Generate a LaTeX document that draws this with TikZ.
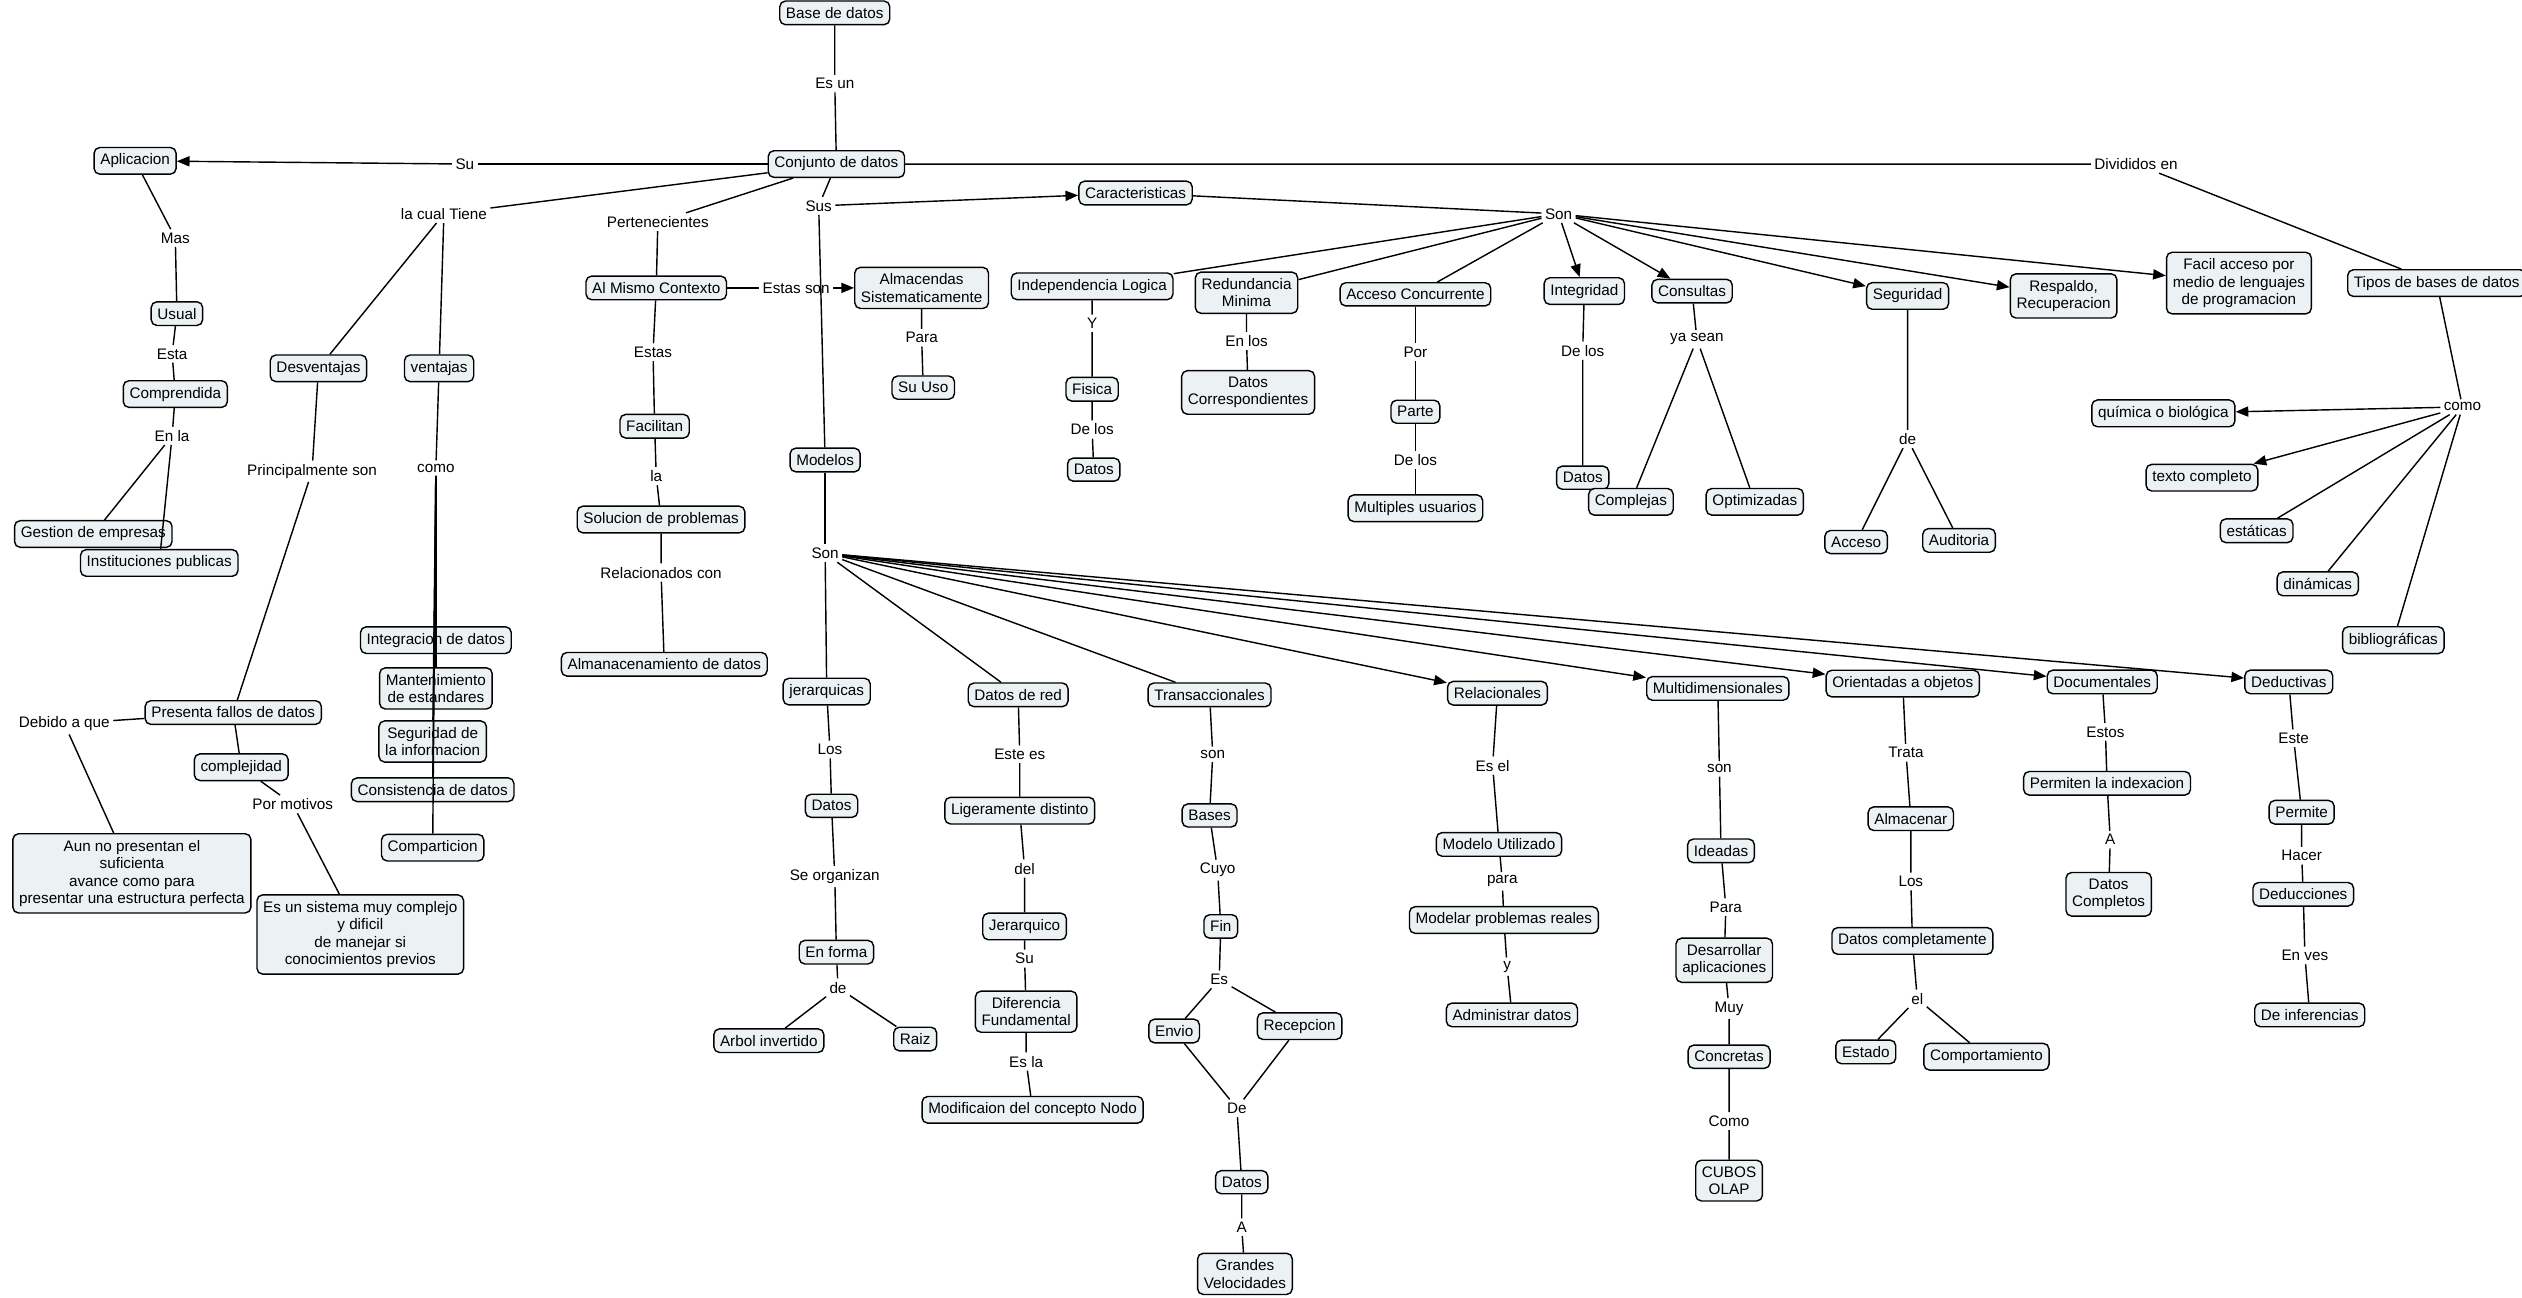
\documentclass[tikz,border=0pt]{standalone}
\usepackage{fontspec}
\setmainfont{Liberation Sans}
\usetikzlibrary{arrows.meta}
\definecolor{boxfill}{RGB}{236,242,244}
\tikzset{
  concept/.style={draw,rounded corners=2pt,fill=boxfill,inner sep=2.2pt,align=center,font=\fontsize{5.4}{6.2}\selectfont},
  link/.style={inner sep=1pt,font=\fontsize{5.4}{6.2}\selectfont},
  to/.style={-{Triangle[length=4.5pt,width=3.6pt]}}
}
\begin{document}
\begin{tikzpicture}[x=0.02cm,y=-0.02cm,line width=0.5pt]
\useasboundingbox (0,0) rectangle (1568,807);
% boxes
\node[concept] (base) at (519,8) {Base de datos};
\node[concept] (conj) at (520,102) {Conjunto de datos};
\node[concept] (apl) at (84,100) {Aplicacion};
\node[concept] (usual) at (110,195) {Usual};
\node[concept] (compr) at (109,245) {Comprendida};
\node[concept] (gest) at (58,332) {Gestion de empresas};
\node[concept] (inst) at (99,350) {Instituciones publicas};
\node[concept] (desv) at (198,229) {Desventajas};
\node[concept] (vent) at (273,229) {ventajas};
\node[concept] (fallos) at (145,443) {Presenta fallos de datos};
\node[concept] (compl) at (150,477) {complejidad};
\node[concept] (aun) at (82,543) {Aun no presentan el\\suficienta\\avance como para\\presentar una estructura perfecta};
\node[concept] (sist) at (224,581) {Es un sistema muy complejo\\y dificil\\de manejar si\\conocimientos previos};
\node[concept] (integ) at (271,398) {Integracion de datos};
\node[concept] (mant) at (271,428) {Mantenimiento\\de estandares};
\node[concept] (seginf) at (269,461) {Seguridad de\\la informacion};
\node[concept] (consis) at (269,491) {Consistencia de datos};
\node[concept] (compar) at (269,527) {Comparticion};
\node[concept] (mismo) at (408,179) {Al Mismo Contexto};
\node[concept] (facil) at (407,265) {Facilitan};
\node[concept] (soluc) at (411,323) {Solucion de problemas};
\node[concept] (almac) at (413,413) {Almanacenamiento de datos};
\node[concept] (almsis) at (573,179) {Almacendas\\Sistematicamente};
\node[concept] (suuso) at (574,241) {Su Uso};
\node[concept] (carac) at (706,120) {Caracteristicas};
\node[concept] (indep) at (679,178) {Independencia Logica};
\node[concept] (fisica) at (679,242) {Fisica};
\node[concept] (datosA) at (680,292) {Datos};
\node[concept] (redun) at (775,182) {Redundancia\\Minima};
\node[concept] (corr) at (776,244) {Datos\\Correspondientes};
\node[concept] (acceso) at (880,183) {Acceso Concurrente};
\node[concept] (parte) at (880,256) {Parte};
\node[concept] (multi) at (880,316) {Multiples usuarios};
\node[concept] (integr) at (985,181) {Integridad};
\node[concept] (datosB) at (984,297) {Datos};
\node[concept] (consul) at (1052,181) {Consultas};
\node[concept] (complej) at (1014,312) {Complejas};
\node[concept] (optim) at (1091,312) {Optimizadas};
\node[concept] (segur) at (1186,184) {Seguridad};
\node[concept] (acc) at (1154,337) {Acceso};
\node[concept] (audit) at (1218,336) {Auditoria};
\node[concept] (resp) at (1283,184) {Respaldo,\\Recuperacion};
\node[concept] (lengu) at (1392,176) {Facil acceso por\\medio de lenguajes\\de programacion};
\node[concept] (tipos) at (1515,176) {Tipos de bases de datos};
\node[concept] (quim) at (1345,257) {química o biológica};
\node[concept] (texto) at (1369,297) {texto completo};
\node[concept] (estat) at (1403,330) {estáticas};
\node[concept] (dinam) at (1441,363) {dinámicas};
\node[concept] (biblio) at (1488,398) {bibliográficas};
\node[concept] (model) at (513,286) {Modelos};
\node[concept] (jerq) at (514,430) {jerarquicas};
\node[concept] (datosC) at (517,501) {Datos};
\node[concept] (forma) at (520,592) {En forma};
\node[concept] (arbol) at (478,647) {Arbol invertido};
\node[concept] (raiz) at (569,646) {Raiz};
\node[concept] (red) at (633,432) {Datos de red};
\node[concept] (ligera) at (634,504) {Ligeramente distinto};
\node[concept] (jerar) at (637,576) {Jerarquico};
\node[concept] (difer) at (638,629) {Diferencia\\Fundamental};
\node[concept] (nodo) at (642,690) {Modificaion del concepto Nodo};
\node[concept] (trans) at (752,432) {Transaccionales};
\node[concept] (bases) at (752,507) {Bases};
\node[concept] (fin) at (759,576) {Fin};
\node[concept] (envio) at (730,641) {Envio};
\node[concept] (recep) at (808,638) {Recepcion};
\node[concept] (datosD) at (772,735) {Datos};
\node[concept] (grand) at (774,792) {Grandes\\Velocidades};
\node[concept] (relac) at (931,431) {Relacionales};
\node[concept] (mutil) at (932,525) {Modelo Utilizado};
\node[concept] (mprob) at (935,572) {Modelar problemas reales};
\node[concept] (admin) at (940,631) {Administrar datos};
\node[concept] (mdim) at (1068,428) {Multidimensionales};
\node[concept] (ideas) at (1070,529) {Ideadas};
\node[concept] (desar) at (1072,597) {Desarrollar\\aplicaciones};
\node[concept] (concr) at (1075,657) {Concretas};
\node[concept] (cubos) at (1075,734) {CUBOS\\OLAP};
\node[concept] (orien) at (1183,425) {Orientadas a objetos};
\node[concept] (almace) at (1188,509) {Almacenar};
\node[concept] (dcomp) at (1189,585) {Datos completamente};
\node[concept] (estado) at (1160,654) {Estado};
\node[concept] (comport) at (1235,657) {Comportamiento};
\node[concept] (docum) at (1307,424) {Documentales};
\node[concept] (index) at (1310,487) {Permiten la indexacion};
\node[concept] (dcompl) at (1311,556) {Datos\\Completos};
\node[concept] (deduc) at (1423,424) {Deductivas};
\node[concept] (permite) at (1431,505) {Permite};
\node[concept] (deducc) at (1432,556) {Deducciones};
\node[concept] (infer) at (1436,631) {De inferencias};
% link labels
\node[link] (esun) at (519,52) {Es un};
\node[link] (su) at (289,102) {Su};
\node[link] (tiene) at (276,133) {la cual Tiene};
\node[link] (perten) at (409,138) {Pertenecientes};
\node[link] (sus) at (509,128) {Sus};
\node[link] (son) at (969,133) {Son};
\node[link] (divid) at (1328,102) {Divididos en};
\node[link] (mas) at (109,148) {Mas};
\node[link] (esta) at (107,220) {Esta};
\node[link] (enla) at (107,271) {En la};
\node[link] (princ) at (194,293) {Principalmente son};
\node[link] (como) at (271,291) {como};
\node[link] (debido) at (40,450) {Debido a que};
\node[link] (motiv) at (182,500) {Por motivos};
\node[link] (estason) at (495,179) {Estas son};
\node[link] (para) at (573,210) {Para};
\node[link] (estas) at (406,219) {Estas};
\node[link] (la) at (408,296) {la};
\node[link] (relcon) at (411,356) {Relacionados con};
\node[link] (y) at (679,201) {Y};
\node[link] (delosA) at (679,267) {De los};
\node[link] (enlos) at (775,212) {En los};
\node[link] (por) at (880,219) {Por};
\node[link] (delosB) at (880,286) {De los};
\node[link] (delosC) at (984,218) {De los};
\node[link] (yasean) at (1055,211) {ya sean};
\node[link] (de) at (1186,273) {de};
\node[link] (comoB) at (1531,253) {como};
\node[link] (sonB) at (513,344) {Son};
\node[link] (los) at (516,466) {Los};
\node[link] (organ) at (519,545) {Se organizan};
\node[link] (deB) at (521,614) {de};
\node[link] (estees) at (634,469) {Este es};
\node[link] (del) at (637,540) {del};
\node[link] (suB) at (637,596) {Su};
\node[link] (esla) at (638,660) {Es la};
\node[link] (sonC) at (754,469) {son};
\node[link] (cuyo) at (757,541) {Cuyo};
\node[link] (es) at (758,609) {Es};
\node[link] (deC) at (769,689) {De};
\node[link] (aA) at (772,763) {A};
\node[link] (esel) at (928,476) {Es el};
\node[link] (paraB) at (934,548) {para};
\node[link] (yB) at (937,601) {y};
\node[link] (sonD) at (1069,478) {son};
\node[link] (paraC) at (1073,564) {Para};
\node[link] (muy) at (1075,627) {Muy};
\node[link] (comoC) at (1075,697) {Como};
\node[link] (trata) at (1185,468) {Trata};
\node[link] (losB) at (1188,548) {Los};
\node[link] (el) at (1192,621) {el};
\node[link] (estos) at (1309,455) {Estos};
\node[link] (aB) at (1312,522) {A};
\node[link] (este) at (1426,459) {Este};
\node[link] (hacer) at (1431,532) {Hacer};
\node[link] (enves) at (1433,594) {En ves};
% connectors
\draw (base) -- (esun) -- (conj);
\draw (conj) -- (su); \draw[to] (su) -- (apl);
\draw (conj) -- (tiene) -- (desv); \draw (tiene) -- (vent);
\draw (conj) -- (perten) -- (mismo);
\draw (conj) -- (sus) -- (model); \draw[to] (sus) -- (carac);
\draw (conj) -- (divid) -- (tipos);
\draw (apl) -- (mas) -- (usual) -- (esta) -- (compr) -- (enla) -- (gest);
\draw (enla) -- (inst);
\draw (desv) -- (princ) -- (fallos);
\draw (fallos) -- (debido) -- (aun);
\draw (fallos) -- (compl) -- (motiv) -- (sist);
\draw (vent) -- (como) -- (integ);
\foreach \v in {mant,seginf,consis,compar} \draw (como) -- (\v);
\draw (mismo) -- (estason); \draw[to] (estason) -- (almsis);
\draw (almsis) -- (para) -- (suuso);
\draw (mismo) -- (estas) -- (facil) -- (la) -- (soluc) -- (relcon) -- (almac);
\draw (carac) -- (son);
\foreach \v in {indep,redun,acceso} \draw (son) -- (\v);
\foreach \v in {integr,consul,segur,resp,lengu} \draw[to] (son) -- (\v);
\draw (indep) -- (y) -- (fisica) -- (delosA) -- (datosA);
\draw (redun) -- (enlos) -- (corr);
\draw (acceso) -- (por) -- (parte) -- (delosB) -- (multi);
\draw (integr) -- (delosC) -- (datosB);
\draw (consul) -- (yasean) -- (complej); \draw (yasean) -- (optim);
\draw (segur) -- (de) -- (acc); \draw (de) -- (audit);
\draw (tipos) -- (comoB);
\draw[to] (comoB) -- (quim); \draw[to] (comoB) -- (texto);
\foreach \v in {estat,dinam,biblio} \draw (comoB) -- (\v);
\draw (model) -- (sonB);
\foreach \v in {jerq,red,trans} \draw (sonB) -- (\v);
\foreach \v in {relac,mdim,orien,docum,deduc} \draw[to] (sonB) -- (\v);
\draw (jerq) -- (los) -- (datosC) -- (organ) -- (forma) -- (deB) -- (arbol);
\draw (deB) -- (raiz);
\draw (red) -- (estees) -- (ligera) -- (del) -- (jerar) -- (suB) -- (difer) -- (esla) -- (nodo);
\draw (trans) -- (sonC) -- (bases) -- (cuyo) -- (fin) -- (es) -- (envio);
\draw (es) -- (recep);
\draw (envio) -- (deC) -- (recep);
\draw (deC) -- (datosD) -- (aA) -- (grand);
\draw (relac) -- (esel) -- (mutil) -- (paraB) -- (mprob) -- (yB) -- (admin);
\draw (mdim) -- (sonD) -- (ideas) -- (paraC) -- (desar) -- (muy) -- (concr) -- (comoC) -- (cubos);
\draw (orien) -- (trata) -- (almace) -- (losB) -- (dcomp) -- (el) -- (estado);
\draw (el) -- (comport);
\draw (docum) -- (estos) -- (index) -- (aB) -- (dcompl);
\draw (deduc) -- (este) -- (permite) -- (hacer) -- (deducc) -- (enves) -- (infer);
\end{tikzpicture}
\end{document}
